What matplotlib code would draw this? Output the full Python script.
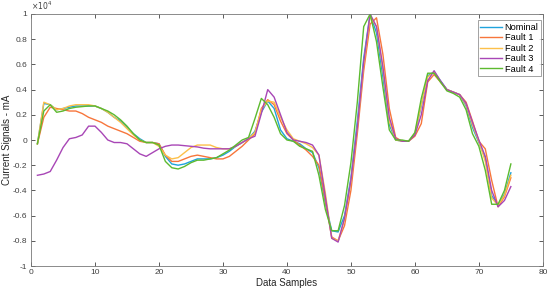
import matplotlib
matplotlib.use('Agg')
import matplotlib.pyplot as plt
import numpy as np
from matplotlib.ticker import FuncFormatter

plt.rcParams['font.family'] = ['Liberation Sans', 'DejaVu Sans']

# signal values in units of 1e4 mA, samples 1..75
samples = np.arange(1, 76)

nominal = [-0.03, 0.29, 0.28, 0.24, 0.25, 0.26, 0.27, 0.27, 0.27, 0.27,
           0.25, 0.22, 0.18, 0.15, 0.10, 0.05, 0.01, -0.02, -0.02, -0.03,
           -0.13, -0.19, -0.20, -0.19, -0.17, -0.15, -0.15, -0.15, -0.14, -0.12,
           -0.09, -0.05, -0.02, 0.01, 0.07, 0.22, 0.31, 0.25, 0.08, 0.01,
           -0.01, -0.03, -0.07, -0.10, -0.22, -0.50, -0.72, -0.73, -0.60, -0.30,
           0.15, 0.65, 1.00, 0.85, 0.50, 0.12, 0.00, -0.01, -0.01, 0.05,
           0.27, 0.51, 0.54, 0.47, 0.40, 0.38, 0.36, 0.27, 0.10, -0.02,
           -0.14, -0.44, -0.52, -0.43, -0.26]

fault1 = [-0.03, 0.18, 0.26, 0.25, 0.24, 0.23, 0.23, 0.21, 0.18, 0.16,
          0.14, 0.11, 0.09, 0.07, 0.05, 0.02, -0.01, -0.02, -0.02, -0.03,
          -0.12, -0.17, -0.17, -0.15, -0.13, -0.12, -0.13, -0.14, -0.15, -0.15,
          -0.13, -0.09, -0.05, 0.00, 0.05, 0.25, 0.32, 0.28, 0.15, 0.05,
          0.00, -0.04, -0.08, -0.13, -0.20, -0.48, -0.77, -0.80, -0.68, -0.40,
          0.05, 0.55, 0.92, 0.97, 0.68, 0.25, 0.02, -0.01, -0.01, 0.03,
          0.13, 0.46, 0.52, 0.46, 0.40, 0.38, 0.36, 0.30, 0.15, -0.01,
          -0.07, -0.32, -0.53, -0.45, -0.30]

fault2 = [-0.03, 0.30, 0.28, 0.24, 0.25, 0.27, 0.28, 0.28, 0.28, 0.27,
          0.25, 0.22, 0.18, 0.14, 0.09, 0.04, 0.00, -0.02, -0.02, -0.05,
          -0.12, -0.15, -0.14, -0.10, -0.06, -0.04, -0.04, -0.04, -0.06, -0.07,
          -0.07, -0.05, -0.02, 0.01, 0.06, 0.24, 0.31, 0.30, 0.18, 0.08,
          0.01, -0.01, -0.03, -0.06, -0.12, -0.42, -0.78, -0.80, -0.63, -0.33,
          0.10, 0.60, 0.98, 0.90, 0.56, 0.15, 0.00, -0.01, -0.01, 0.05,
          0.28, 0.50, 0.54, 0.46, 0.40, 0.38, 0.36, 0.28, 0.12, -0.01,
          -0.17, -0.46, -0.52, -0.44, -0.28]

fault3 = [-0.28, -0.27, -0.25, -0.16, -0.06, 0.01, 0.02, 0.04, 0.11, 0.11,
          0.06, 0.00, -0.02, -0.02, -0.03, -0.07, -0.11, -0.13, -0.10, -0.07,
          -0.05, -0.04, -0.04, -0.045, -0.05, -0.055, -0.065, -0.07, -0.07, -0.07,
          -0.07, -0.05, -0.02, 0.01, 0.03, 0.21, 0.40, 0.34, 0.20, 0.06,
          0.00, -0.01, -0.02, -0.04, -0.12, -0.45, -0.78, -0.81, -0.62, -0.32,
          0.10, 0.62, 1.00, 0.90, 0.58, 0.18, 0.01, -0.01, -0.01, 0.04,
          0.20, 0.47, 0.55, 0.47, 0.40, 0.38, 0.36, 0.29, 0.14, 0.00,
          -0.13, -0.40, -0.53, -0.48, -0.37]

fault4 = [-0.03, 0.23, 0.28, 0.22, 0.23, 0.25, 0.26, 0.265, 0.27, 0.27,
          0.25, 0.23, 0.20, 0.16, 0.11, 0.05, 0.00, -0.02, -0.02, -0.04,
          -0.17, -0.22, -0.23, -0.21, -0.18, -0.16, -0.16, -0.15, -0.14, -0.11,
          -0.08, -0.04, 0.00, 0.02, 0.17, 0.33, 0.28, 0.18, 0.05, 0.00,
          -0.01, -0.05, -0.07, -0.09, -0.28, -0.55, -0.72, -0.72, -0.52, -0.18,
          0.30, 0.90, 1.00, 0.78, 0.42, 0.08, 0.00, 0.00, -0.01, 0.06,
          0.33, 0.53, 0.53, 0.46, 0.39, 0.37, 0.34, 0.24, 0.05, -0.05,
          -0.24, -0.51, -0.51, -0.40, -0.19]

series_names = ['Nominal', 'Fault 1', 'Fault 2', 'Fault 3', 'Fault 4']
series_values = [nominal, fault1, fault2, fault3, fault4]
series_colors = ['#1fa3dc', '#f7763c', '#fcc04a', '#a846b6', '#5cba2f']

fig = plt.figure(figsize=(5.5, 2.91), dpi=100)
ax = fig.add_axes([0.0564, 0.0859, 0.9306, 0.866])

for name, vals, col in zip(series_names, series_values, series_colors):
    ax.plot(samples, vals, color=col, linewidth=1.0, label=name)

ax.set_xlim(0, 80)
ax.set_ylim(-1, 1)
ax.set_xticks(np.arange(0, 81, 10))
ax.set_yticks(np.round(np.arange(-1, 1.01, 0.2), 1))
ax.yaxis.set_major_formatter(FuncFormatter(lambda v, p: '%g' % round(v, 1) if abs(v) > 1e-9 else '0'))

ax.tick_params(direction='in', length=3, width=0.6, labelsize=6, colors='#404040',
               top=True, right=True, pad=2.5)
for sp in ax.spines.values():
    sp.set_color('#777777')
    sp.set_linewidth(0.6)

ax.set_xlabel('Data Samples', fontsize=7, color='#262626', labelpad=1)
ax.set_ylabel('Current Signals - mA', fontsize=7, color='#262626', labelpad=1)
ax.text(0.0, 1.008, r'$\times10^4$', transform=ax.transAxes, fontsize=5.5,
        color='#404040', va='bottom', ha='left')

leg = ax.legend(loc='upper right', bbox_to_anchor=(0.997, 0.975), fontsize=6.7,
                frameon=True, fancybox=False, borderaxespad=0.0, handlelength=2.3,
                handletextpad=0.3, labelspacing=0.15, borderpad=0.3)
leg.get_frame().set_edgecolor('#777777')
leg.get_frame().set_linewidth(0.6)

fig.savefig('out.png', dpi=100)
